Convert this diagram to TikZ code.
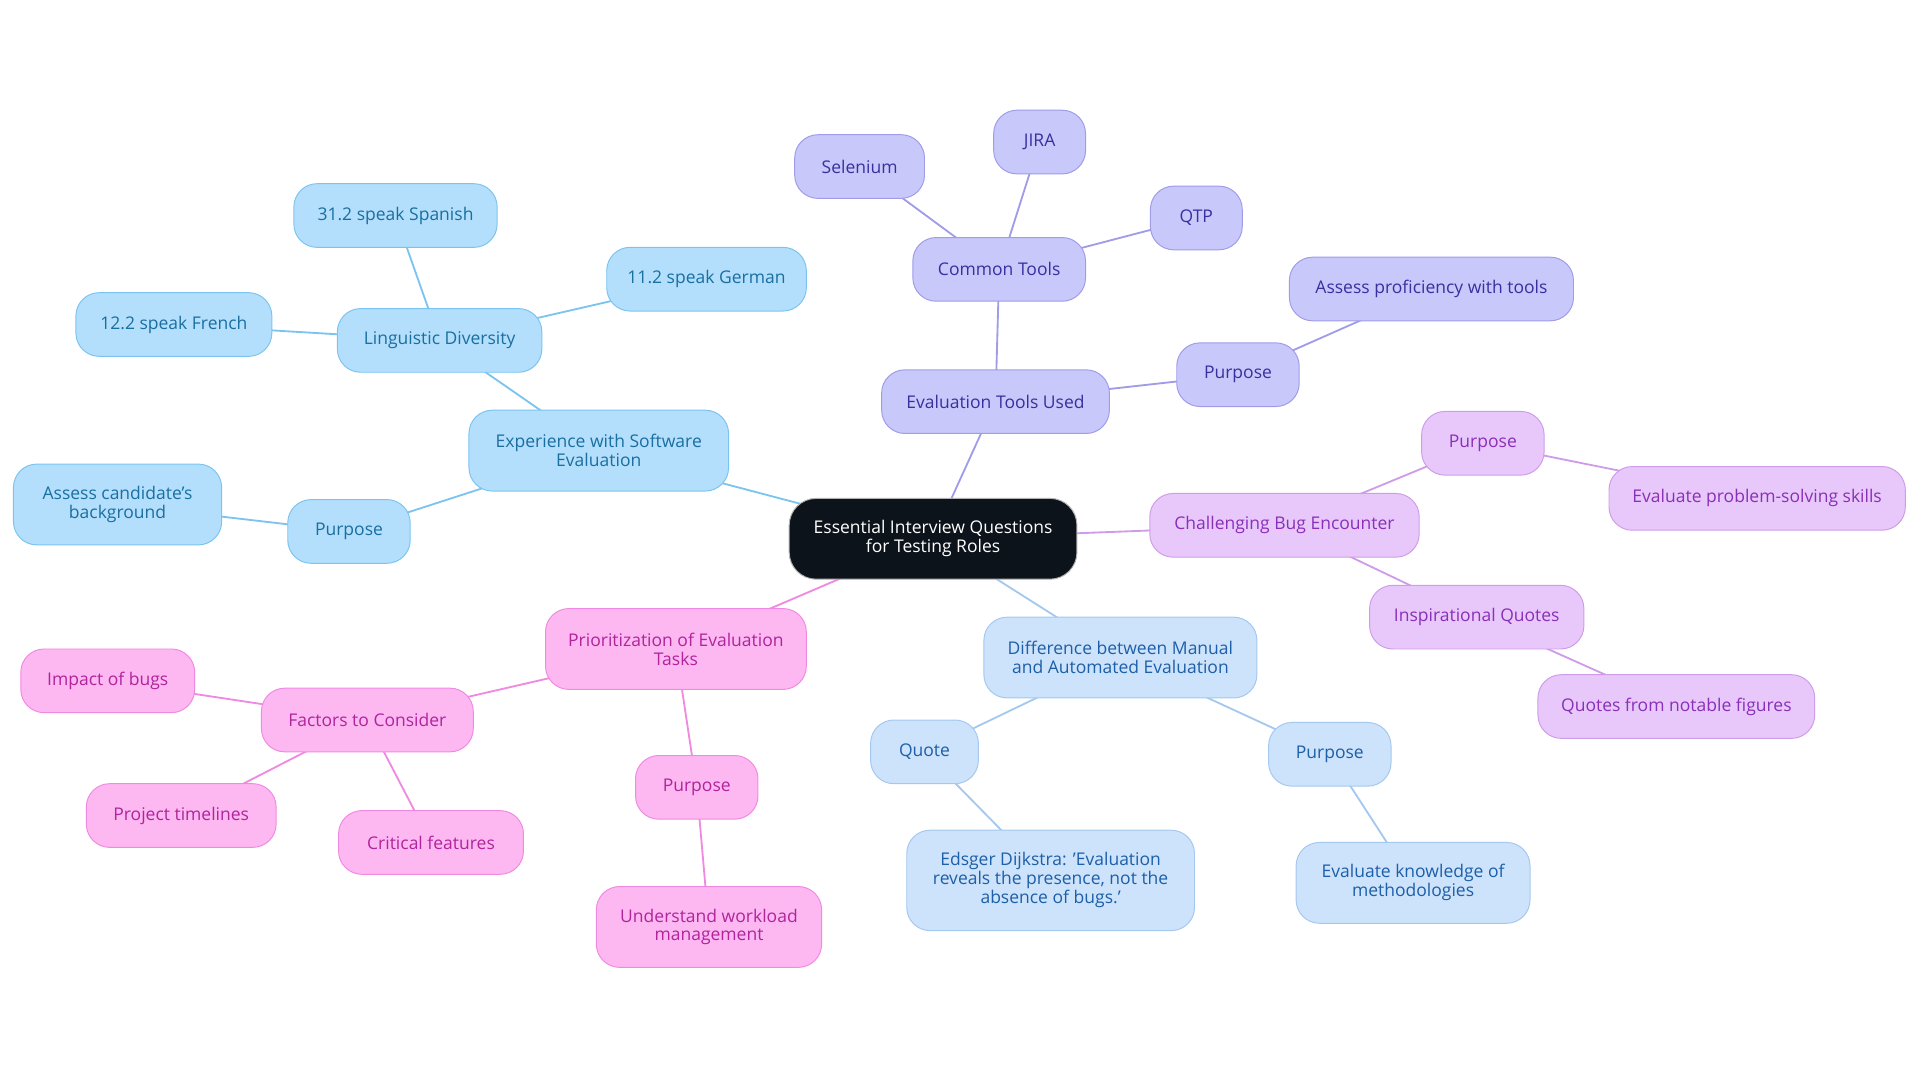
\documentclass[tikz,border=0pt]{standalone}
\usepackage{fontspec}
\setmainfont{Open Sans}
\usetikzlibrary{backgrounds}
\definecolor{bF}{HTML}{B3DFFC}\definecolor{bS}{HTML}{7CC4F0}\definecolor{bT}{HTML}{1A6FA0}
\definecolor{pF}{HTML}{C8C8FA}\definecolor{pS}{HTML}{A09CE8}\definecolor{pT}{HTML}{3B2FA0}
\definecolor{vF}{HTML}{E8C8FB}\definecolor{vS}{HTML}{CF9CE8}\definecolor{vT}{HTML}{8A2FB8}
\definecolor{mF}{HTML}{FDB8F2}\definecolor{mS}{HTML}{F08AE0}\definecolor{mT}{HTML}{B0249C}
\definecolor{lF}{HTML}{CDE3FB}\definecolor{lS}{HTML}{A5C8EE}\definecolor{lT}{HTML}{1D5FA8}
\definecolor{cF}{HTML}{0D131B}
\tikzset{
 n/.style={draw, line width=0.8pt, rounded corners=19pt, align=center, inner sep=0pt,
   font=\fontsize{14.3}{15.5}\selectfont},
 B/.style={n,fill=bF,draw=bS,text=bT}, P/.style={n,fill=pF,draw=pS,text=pT},
 V/.style={n,fill=vF,draw=vS,text=vT}, M/.style={n,fill=mF,draw=mS,text=mT},
 L/.style={n,fill=lF,draw=lS,text=lT},
 e/.style={line width=1.5pt}
}
\newcommand\nd[6]{\node[#1,minimum width=#4pt,minimum height=#5pt] (#2) at (#3) {#6};}
\begin{document}
\begin{tikzpicture}[x=1pt,y=-1pt]
\useasboundingbox (0,0) rectangle (1568,884.4);
\node[n,fill=cF,draw=gray!60,text=white,minimum width=235pt,minimum height=66pt,rounded corners=22pt] (c) at (762,440) {Essential Interview Questions\\for Testing Roles};
\nd{B}{exp}{489,368}{212}{66}{Experience with Software\\Evaluation}
\nd{B}{ling}{359,278}{167}{52}{Linguistic Diversity}
\nd{B}{spa}{323,176}{166}{52}{31.2 speak Spanish}
\nd{B}{ger}{577,228}{163}{52}{11.2 speak German}
\nd{B}{fre}{142,265}{160}{52}{12.2 speak French}
\nd{B}{pu1}{285,434}{100}{52}{Purpose}
\nd{B}{ass}{96,412}{170}{66}{Assess candidate's\\background}
\nd{P}{evt}{813,328}{186}{52}{Evaluation Tools Used}
\nd{P}{com}{816,220}{141}{52}{Common Tools}
\nd{P}{sel}{702,136}{106}{52}{Selenium}
\nd{P}{jira}{849,116}{75}{52}{JIRA}
\nd{P}{qtp}{977,178}{75}{52}{QTP}
\nd{P}{pu2}{1011,306}{100}{52}{Purpose}
\nd{P}{apt}{1169,236}{232}{52}{Assess proficiency with tools}
\nd{V}{bug}{1049,429}{220}{52}{Challenging Bug Encounter}
\nd{V}{pu3}{1211,362}{100}{52}{Purpose}
\nd{V}{eps}{1435,407}{242}{52}{Evaluate problem-solving skills}
\nd{V}{iq}{1206,504}{175}{52}{Inspirational Quotes}
\nd{V}{qnf}{1369,577}{226}{52}{Quotes from notable figures}
\nd{M}{pri}{552,530}{213}{66}{Prioritization of Evaluation\\Tasks}
\nd{M}{fac}{300,588}{173}{52}{Factors to Consider}
\nd{M}{imp}{88,556}{142}{52}{Impact of bugs}
\nd{M}{proj}{148,666}{155}{52}{Project timelines}
\nd{M}{crit}{352,688}{151}{52}{Critical features}
\nd{M}{pu4}{569,643}{100}{52}{Purpose}
\nd{M}{uwm}{579,757}{184}{66}{Understand workload\\management}
\nd{L}{dif}{915,537}{223}{66}{Difference between Manual\\and Automated Evaluation}
\nd{L}{quo}{755,614}{88}{52}{Quote}
\nd{L}{eds}{858,719}{235}{82}{Edsger Dijkstra: 'Evaluation\\reveals the presence, not the\\absence of bugs.'}
\nd{L}{pu5}{1086,616}{100}{52}{Purpose}
\nd{L}{ekm}{1154,721}{191}{66}{Evaluate knowledge of\\methodologies}
\begin{scope}[on background layer]
\draw[e,bS] (c.center)--(exp.center) (exp.center)--(ling.center) (ling.center)--(spa.center) (ling.center)--(ger.center) (ling.center)--(fre.center) (exp.center)--(pu1.center) (pu1.center)--(ass.center);
\draw[e,pS] (c.center)--(evt.center) (evt.center)--(com.center) (com.center)--(sel.center) (com.center)--(jira.center) (com.center)--(qtp.center) (evt.center)--(pu2.center) (pu2.center)--(apt.center);
\draw[e,vS] (c.center)--(bug.center) (bug.center)--(pu3.center) (pu3.center)--(eps.center) (bug.center)--(iq.center) (iq.center)--(qnf.center);
\draw[e,mS] (c.center)--(pri.center) (pri.center)--(fac.center) (fac.center)--(imp.center) (fac.center)--(proj.center) (fac.center)--(crit.center) (pri.center)--(pu4.center) (pu4.center)--(uwm.center);
\draw[e,lS] (c.center)--(dif.center) (dif.center)--(quo.center) (quo.center)--(eds.center) (dif.center)--(pu5.center) (pu5.center)--(ekm.center);
\end{scope}
\end{tikzpicture}
\end{document}
